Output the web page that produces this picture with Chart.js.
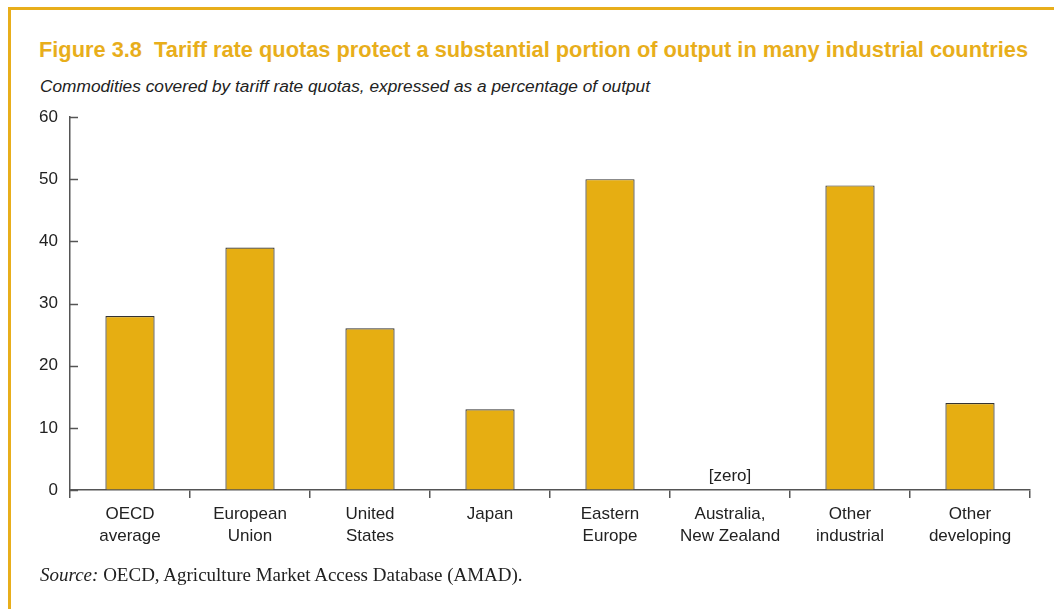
<!DOCTYPE html>
<html>
<head>
<meta charset="utf-8">
<script src="https://cdn.jsdelivr.net/npm/chart.js@4.4.1/dist/chart.umd.min.js"></script>
<style>
  html, body { margin: 0; padding: 0; background: #fff; }
  #wrap { position: relative; width: 1054px; height: 609px; overflow: hidden; }
  .frame-top { position: absolute; left: 8px; top: 7px; width: 1046px; height: 3px; background: #E8AE1B; }
  .frame-left { position: absolute; left: 8px; top: 7px; width: 3px; height: 602px; background: #E8AE1B; }
  .title { position: absolute; left: 39px; top: 37px; font: bold 21.8px "Liberation Sans", Arial, sans-serif; color: #E8AE1B; white-space: nowrap; }
  .subtitle { position: absolute; left: 40px; top: 76px; font: italic 17.3px "Liberation Sans", Arial, sans-serif; color: #222; white-space: nowrap; }
  .source { position: absolute; left: 40px; top: 564px; font: 19px "Liberation Serif", "Times New Roman", serif; color: #222; white-space: nowrap; }
  canvas { position: absolute; left: 0; top: 0; }
</style>
</head>
<body>
<div id="wrap">
  <div class="frame-top"></div>
  <div class="frame-left"></div>
  <div class="title">Figure 3.8&nbsp; Tariff rate quotas protect a substantial portion of output in many industrial countries</div>
  <div class="subtitle">Commodities covered by tariff rate quotas, expressed as a percentage of output</div>
  <canvas id="chart" width="1054" height="609"></canvas>
  <div class="source"><i>Source:</i> OECD, Agriculture Market Access Database (AMAD).</div>
</div>
<script>
const categories = [
  ['OECD', 'average'],
  ['European', 'Union'],
  ['United', 'States'],
  ['Japan'],
  ['Eastern', 'Europe'],
  ['Australia,', 'New Zealand'],
  ['Other', 'industrial'],
  ['Other', 'developing']
];
const coverage = [28, 39, 26, 13, 50, 0, 49, 14];
const yTicks = [0, 10, 20, 30, 40, 50, 60];
const zeroNote = '[zero]';

const axisColor = '#555';
const textColor = '#222';
const font = { family: '"Liberation Sans", Arial, sans-serif', size: 17, lineHeight: 1.25 };

// y ticks point inward, and the zero bar gets a note
const extras = {
  id: 'extras',
  afterDatasetsDraw(chart) {
    const { ctx, scales: { x, y } } = chart;
    ctx.save();
    ctx.strokeStyle = axisColor;
    ctx.lineWidth = 1.5;
    yTicks.forEach(v => {
      const py = Math.round(y.getPixelForValue(v)) + 0.5;
      ctx.beginPath();
      ctx.moveTo(x.left, py);
      ctx.lineTo(x.left + 8, py);
      ctx.stroke();
    });
    coverage.forEach((v, i) => {
      if (v === 0) {
        ctx.fillStyle = textColor;
        ctx.font = '17px ' + font.family;
        ctx.textAlign = 'center';
        ctx.textBaseline = 'bottom';
        ctx.fillText(zeroNote, x.getPixelForValue(i), y.getPixelForValue(0) - 5);
      }
    });
    ctx.restore();
  }
};

new Chart(document.getElementById('chart').getContext('2d'), {
  type: 'bar',
  data: {
    labels: categories,
    datasets: [{
      data: coverage,
      backgroundColor: '#E6AE12',
      borderColor: '#333',
      borderWidth: 1.2,
      barPercentage: 0.41,
      categoryPercentage: 1.0
    }]
  },
  options: {
    responsive: false,
    animation: false,
    layout: { padding: { top: 117, right: 24, bottom: 59, left: 0 } },
    plugins: { legend: { display: false }, tooltip: { enabled: false } },
    scales: {
      x: {
        offset: true,
        grid: { offset: true, drawOnChartArea: false, drawTicks: true, tickLength: 8, color: axisColor, lineWidth: 1.5 },
        border: { display: true, color: axisColor, width: 1.5 },
        ticks: { color: textColor, font: font, padding: 6, maxRotation: 0, autoSkip: false },
        afterFit(s) { s.height = 60; }
      },
      y: {
        min: 0,
        max: 60,
        afterBuildTicks(s) { s.ticks = yTicks.map(v => ({ value: v })); },
        grid: { drawOnChartArea: false, drawTicks: false },
        border: { display: true, color: axisColor, width: 1.5 },
        ticks: { color: textColor, font: font, padding: 12 },
        afterFit(s) { s.width = 70; }
      }
    }
  },
  plugins: [extras]
});
</script>
</body>
</html>
